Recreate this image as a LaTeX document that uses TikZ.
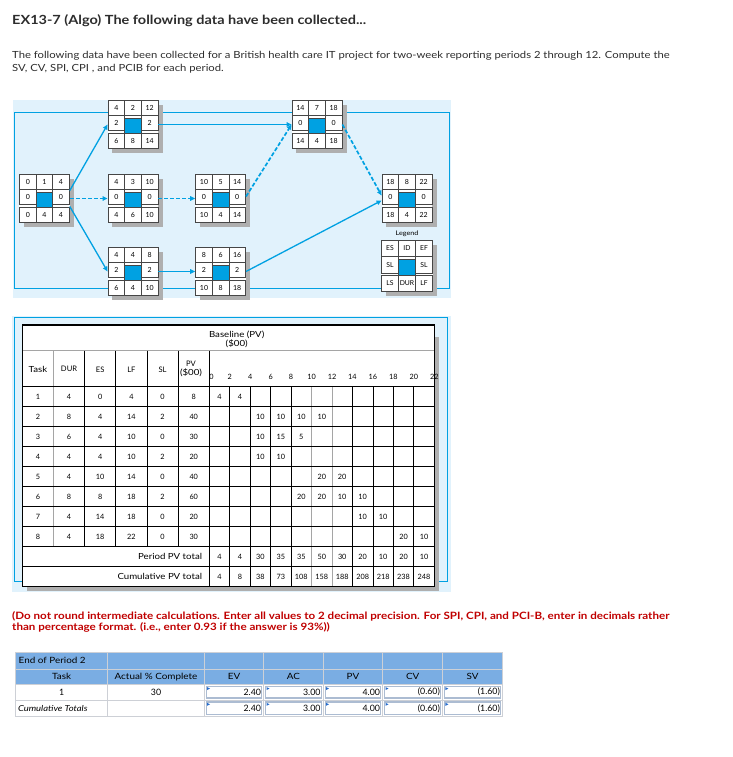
\documentclass[tikz,border=0pt]{standalone}
\usepackage{fontspec}
\setmainfont[FakeStretch=1.15]{Lato}
\newfontfamily\numfont{Lato}
\usetikzlibrary{arrows.meta,matrix,shadows,positioning}

\definecolor{panelbg}{RGB}{225,242,252}
\definecolor{netblue}{RGB}{0,161,226}
\definecolor{cellline}{RGB}{70,70,70}
\definecolor{shadowgray}{RGB}{175,175,175}
\definecolor{tabgray}{RGB}{165,165,165}
\definecolor{hdrblue}{RGB}{122,173,227}
\definecolor{gridgray}{RGB}{205,208,214}
\definecolor{inputline}{RGB}{172,188,210}
\definecolor{tipblue}{RGB}{40,110,205}
\definecolor{notered}{RGB}{192,0,0}
\definecolor{textgray}{RGB}{45,45,45}

\begin{document}
\begin{tikzpicture}[x=1pt,y=-1pt,
    pertbox/.style={matrix of nodes,nodes in empty cells,inner sep=0pt,
      column sep=-0.6pt,row sep=-0.6pt,fill=white,
      drop shadow={shadow xshift=4.5pt,shadow yshift=-4.5pt,fill=shadowgray,opacity=1},
      nodes={draw=cellline,line width=0.6pt,minimum width=16.6pt,minimum height=15pt,
        inner sep=0pt,font=\numfont\fontsize{7}{8}\selectfont}},
    midcell/.style={fill=netblue},
    link/.style={netblue,line width=1.3pt,-{Triangle[length=5pt,width=4.5pt]}},
    dlink/.style={link,line width=1.7pt,dash pattern=on 4pt off 2pt},
    tabtext/.style={inner sep=0pt,font=\fontsize{8.4}{9}\selectfont},
    tabnum/.style={inner sep=0pt,font=\numfont\fontsize{7.3}{8}\selectfont},
    anstext/.style={inner sep=0pt,font=\fontsize{8.6}{10}\selectfont},
    ansnum/.style={inner sep=0pt,font=\numfont\fontsize{8.8}{10}\selectfont}]

    \useasboundingbox (0,0) rectangle (732,757);
    \fill[white] (0,0) rectangle (732,757);

    \node[anchor=west,inner sep=0pt,text=textgray,font=\fontsize{12.6}{14}\selectfont\bfseries] (title) at (12,21)
        {EX13-7 (Algo) The following data have been collected...};
    \node[anchor=west,inner sep=0pt,align=left,text=textgray,font=\fontsize{9.8}{13}\selectfont] (intro) at (12,62.5)
        {The following data have been collected for a British health care IT project for two-week reporting periods 2 through 12. Compute the\\
         SV, CV, SPI, CPI , and PCIB for each period.};

    \fill[panelbg] (13,100) rectangle (451,298);
    \draw[netblue,line width=1pt] (14.7,112.3) rectangle (449.3,288.5);

    \matrix[pertbox] (n1) at (44.4,198.5) {0 & 1 & 4\\ 0 & |[midcell]| & 0\\ 0 & 4 & 4\\};
    \matrix[pertbox] (n2) at (133,124.5) {4 & 2 & 12\\ 2 & |[midcell]| & 2\\ 6 & 8 & 14\\};
    \matrix[pertbox] (n3) at (133,198.5) {4 & 3 & 10\\ 0 & |[midcell]| & 0\\ 4 & 6 & 10\\};
    \matrix[pertbox] (n4) at (133,271.5) {4 & 4 & 8\\ 2 & |[midcell]| & 2\\ 6 & 4 & 10\\};
    \matrix[pertbox] (n5) at (220.6,198.5) {10 & 5 & 14\\ 0 & |[midcell]| & 0\\ 10 & 4 & 14\\};
    \matrix[pertbox] (n6) at (220.6,271.5) {8 & 6 & 16\\ 2 & |[midcell]| & 2\\ 10 & 8 & 18\\};
    \matrix[pertbox] (n7) at (317,124.5) {14 & 7 & 18\\ 0 & |[midcell]| & 0\\ 14 & 4 & 18\\};
    \matrix[pertbox] (n8) at (407,198.5) {18 & 8 & 22\\ 0 & |[midcell]| & 0\\ 18 & 4 & 22\\};
    \matrix[pertbox,nodes={minimum width=17pt,minimum height=16.3pt,font=\numfont\fontsize{6.8}{8}\selectfont}] (legend) at (407,266)
        {ES & ID & EF\\ SL & |[midcell]| & SL\\ LS & DUR & LF\\};
    \node[above=2.5pt of legend,inner sep=0pt,font=\fontsize{6.3}{7}\selectfont] (legendlabel) {Legend};

    \draw[link] ([yshift=8pt]n1.east) -- (n2.west);
    \draw[dlink] (n1.east) -- (n3.west);
    \draw[link] ([yshift=-8pt]n1.east) -- (n4.west);
    \draw[link] (n2.east) -- (n7.west);
    \draw[dlink] (n3.east) -- (n5.west);
    \draw[link] (n4.east) -- (n6.west);
    \draw[dlink] ([yshift=2pt]n5.east) -- (n7.west);
    \draw[dlink] (n7.east) -- ([yshift=3pt]n8.west);
    \draw[link] (n6.east) -- ([yshift=-2pt]n8.west);

    \fill[panelbg] (12,316) rectangle (451,592);
    \draw[netblue,line width=1.5pt] (14.5,317.5) rectangle (447.3,581.7);
    \fill[shadowgray] (27,337) rectangle (438.5,590.7);
    \fill[white] (22.3,325) rectangle (434.3,586.7);
    \draw[tabgray,line width=0.8pt] (22.3,350.7) -- (434.3,350.7);
    \draw[tabgray,line width=0.8pt] (53.47,350.7) -- (53.47,546.7);
    \foreach \k in {2,...,5}
        \draw[line width=0.7pt] (22.3+31.17*\k,350.7) -- (22.3+31.17*\k,546.7);
    \draw[line width=0.7pt] (209.3,350.7) -- (209.3,586.7);
    \foreach \i in {1,2,3,4,7,8,9,10}
        \draw[line width=0.7pt] (209.3+20.45*\i,386.7) -- (209.3+20.45*\i,586.7);
    \foreach \i in {5,6}
        \draw[tabgray,line width=0.8pt] (209.3+20.45*\i,386.7) -- (209.3+20.45*\i,586.7);
    \foreach \j in {0,...,9}
        \draw[line width=0.7pt] (22.3,386.7+20*\j) -- (434.3,386.7+20*\j);
    \draw[line width=1.3pt] (22.3,325) rectangle (434.3,586.7);

    \node[tabtext] (baseline) at (236.7,334.5) {Baseline (PV)};
    \node[tabtext] (baselineunit) at (236.7,344) {(\$00)};
    \node[tabtext] (head-1) at (37.9,369.3) {Task};
    \foreach \h [count=\c from 2] in {DUR,ES,LF,SL}
        \node[tabnum,font=\numfont\fontsize{7.6}{8}\selectfont] (head-\c) at (22.3+31.17*\c-15.58,369.3) {\h};
    \node[tabnum,font=\numfont\fontsize{7.6}{8}\selectfont] (headpv) at (191,363.3) {PV};
    \node[tabtext] (headpvunit) at (191,372.3) {(\$00)};
    \foreach \t [count=\i from 0] in {0,2,4,6,8,10,12,14,16,18,20,22} {
        \pgfmathsetmacro\wx{209.3+20.45*\i+2.2*(\i==0)}
        \node[tabnum] (week-\i) at (\wx,377.3) {\t};
    }

    \foreach \row [count=\k] in {
        {1,4,0,4,0,8,4,4},
        {2,8,4,14,2,40,,,10,10,10,10},
        {3,6,4,10,0,30,,,10,15,5},
        {4,4,4,10,2,20,,,10,10},
        {5,4,10,14,0,40,,,,,,20,20},
        {6,8,8,18,2,60,,,,,20,20,10,10},
        {7,4,14,18,0,20,,,,,,,,10,10},
        {8,4,18,22,0,30,,,,,,,,,,20,10}}
        \foreach \v [count=\c] in \row {
            \pgfmathsetmacro\cx{\c<7 ? 22.3+31.17*(\c-0.5) : 209.3+20.45*(\c-6.5)}
            \node[tabnum] (cell-\k-\c) at (\cx,376.7+20*\k) {\v};
        }

    \node[tabtext,anchor=east] (periodtotal) at (202.3,556.7) {Period PV total};
    \node[tabtext,anchor=east] (cumtotal) at (202.3,576.7) {Cumulative PV total};
    \foreach \v [count=\c] in {4,4,30,35,35,50,30,20,10,20,10}
        \node[tabnum] (ptot-\c) at (209.3+20.45*\c-10.22,556.7) {\v};
    \foreach \v [count=\c] in {4,8,38,73,108,158,188,208,218,238,248}
        \node[tabnum] (ctot-\c) at (209.3+20.45*\c-10.22,576.7) {\v};

    \node[anchor=west,inner sep=0pt,align=left,text=notered,font=\fontsize{10.1}{11.5}\selectfont\bfseries] (note) at (12,621.7)
        {(Do not round intermediate calculations. Enter all values to 2 decimal precision. For SPI, CPI, and PCI-B, enter in decimals rather\\
         than percentage format. (i.e., enter 0.93 if the answer is 93\%))};

    \fill[hdrblue] (15.5,652.3) rectangle (502.6,684.3);
    \foreach \y in {652.3,669,684.3,700,716.7}
        \draw[gridgray,line width=0.8pt] (15.5,\y) -- (502.6,\y);
    \foreach \x in {15.5,107.7,204.2,263.7,323.2,382.7,442.6,502.6}
        \draw[gridgray,line width=0.8pt] (\x,652.3) -- (\x,716.7);
    \foreach \xl/\xr in {204.2/263.7,263.7/323.2,323.2/382.7,382.7/442.6,442.6/502.6}
        \foreach \yt/\yb in {684.3/700,700/716.7} {
            \draw[inputline,line width=1.2pt] (\xl+2,\yt+2) rectangle (\xr-2,\yb-2);
            \fill[tipblue] (\xl+2.8,\yt+2.8) -- (\xl+5.8,\yt+4.3) -- (\xl+2.8,\yt+5.8) -- cycle;
        }

    \node[anstext,anchor=west] (endperiod) at (18.5,660.6) {End of Period 2};
    \foreach \x/\h [count=\c] in {61.6/Task,156/Actual \% Complete,234/EV,293.5/AC,353/PV,412.7/CV,472.6/SV}
        \node[anstext] (anshead-\c) at (\x,676.6) {\h};
    \node[ansnum] (anstask) at (61.6,692.2) {1};
    \node[ansnum] (anspct) at (156,692.2) {30};
    \node[anstext,anchor=west,font=\fontsize{8.2}{10}\selectfont\itshape] (anscum) at (17.8,708.4) {Cumulative Totals};
    \foreach \x/\v [count=\c] in {261.2/2.40,320.7/3.00,380.2/4.00,440.1/(0.60),500.1/(1.60)} {
        \node[ansnum,anchor=east] (ansrow-\c) at (\x,692.2) {\v};
        \node[ansnum,anchor=east] (anscum-\c) at (\x,708.4) {\v};
    }
\end{tikzpicture}
\end{document}
